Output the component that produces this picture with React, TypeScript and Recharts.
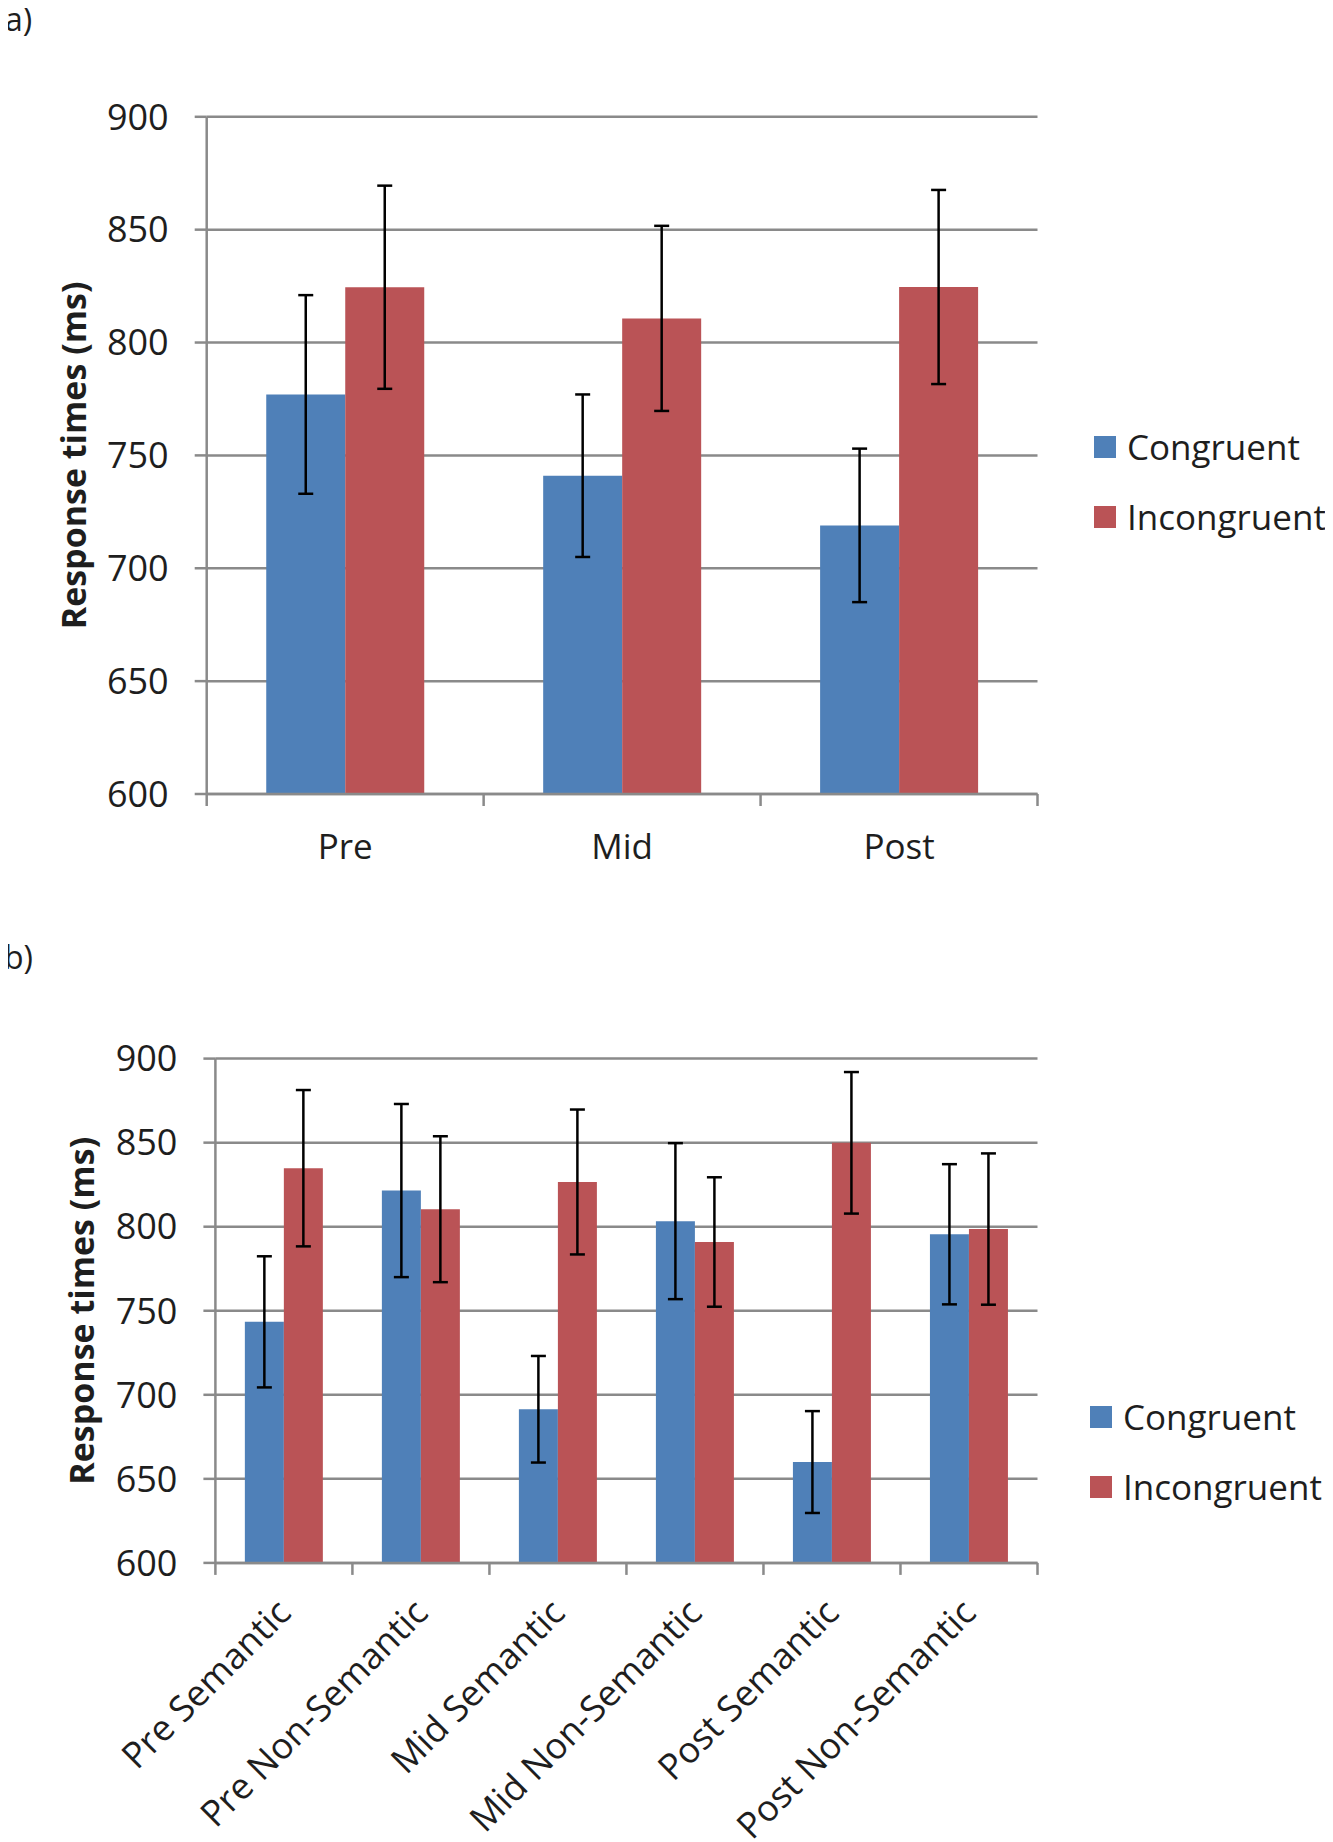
import React from 'react'
import { Bar, BarChart, CartesianGrid, ErrorBar, Legend, XAxis, YAxis } from 'recharts'

// panel a) – by phase
const phases = ['Pre', 'Mid', 'Post']
const congruentA = [777, 741, 719]
const congruentErrA = [44, 36, 34]
const incongruentA = [824.5, 810.7, 824.6]
const incongruentErrA = [45, 41, 43]

// panel b) – by phase and condition
const conditions = [
  'Pre Semantic',
  'Pre Non-Semantic',
  'Mid Semantic',
  'Mid Non-Semantic',
  'Post Semantic',
  'Post Non-Semantic',
]
const congruentB = [743.4, 821.5, 691.4, 803.3, 660, 795.5]
const congruentErrB = [39, 51.5, 31.7, 46.4, 30.3, 41.7]
const incongruentB = [834.8, 810.4, 826.6, 790.9, 849.9, 798.6]
const incongruentErrB = [46.5, 43.4, 43.1, 38.5, 42.1, 45]

const yTicks = [600, 650, 700, 750, 800, 850, 900]

const BLUE = '#4F80B8'
const RED = '#BA5356'
const GRID = '#8A8A8A'
const INK = '#1E1E1E'
const FONT = '"Open Sans", sans-serif'

const tableA = phases.map((name, i) => ({
  name,
  congruent: congruentA[i],
  congruentErr: congruentErrA[i],
  incongruent: incongruentA[i],
  incongruentErr: incongruentErrA[i],
}))

const tableB = conditions.map((name, i) => ({
  name,
  congruent: congruentB[i],
  congruentErr: congruentErrB[i],
  incongruent: incongruentB[i],
  incongruentErr: incongruentErrB[i],
}))

// category ticks sit between the categories, as in the original spreadsheet chart
function makeTick(band: number, count: number, rotated: boolean) {
  return function CategoryTick(props: any) {
    const { x, y, payload, index } = props
    const left = x - band / 2
    const bx = x + 9
    const by = y + 52
    return (
      <g>
        <line x1={left} y1={y} x2={left} y2={y + 12} stroke={GRID} strokeWidth={2.5} />
        {index === count - 1 && (
          <line x1={x + band / 2} y1={y} x2={x + band / 2} y2={y + 12} stroke={GRID} strokeWidth={2.5} />
        )}
        {rotated ? (
          <text
            x={bx}
            y={by}
            textAnchor="end"
            transform={`rotate(-45 ${bx} ${by})`}
            fill={INK}
            fontSize={36}
            fontFamily={FONT}
          >
            {payload.value}
          </text>
        ) : (
          <text x={x} y={y + 65} textAnchor="middle" fill={INK} fontSize={35} fontFamily={FONT}>
            {payload.value}
          </text>
        )}
      </g>
    )
  }
}

function YLabel(props: any) {
  const { viewBox } = props
  const cx = viewBox.x - 1
  const cy = viewBox.y + viewBox.height / 2
  return (
    <text
      x={cx}
      y={cy}
      textAnchor="middle"
      transform={`rotate(-90 ${cx} ${cy})`}
      fill={INK}
      fontSize={34}
      fontWeight={700}
      fontFamily={FONT}
    >
      Response times (ms)
    </text>
  )
}

function renderLegend(props: any) {
  return (
    <div style={{ fontFamily: FONT, fontSize: 35, color: INK }}>
      {props.payload.map((entry: any) => (
        <div key={entry.value} style={{ display: 'flex', alignItems: 'center', height: 70 }}>
          <span style={{ width: 22, height: 22, background: entry.color, marginRight: 11 }} />
          <span style={{ lineHeight: '70px' }}>{entry.value}</span>
        </div>
      ))}
    </div>
  )
}

function Panel({ data, width, height, margin, xHeight, band, rotated, legendPos }: any) {
  return (
    <BarChart
      width={width}
      height={height}
      data={data}
      margin={margin}
      barCategoryGap="21.5%"
      barGap={0}
    >
      <CartesianGrid vertical={false} stroke={GRID} strokeWidth={2.5} />
      <XAxis
        dataKey="name"
        interval={0}
        height={xHeight}
        tickSize={0}
        tickMargin={0}
        tickLine={false}
        axisLine={{ stroke: GRID, strokeWidth: 2.5 }}
        tick={makeTick(band, data.length, rotated)}
      />
      <YAxis
        width={120}
        domain={[600, 900]}
        ticks={yTicks}
        interval={0}
        tickSize={12}
        tickMargin={26}
        axisLine={{ stroke: GRID, strokeWidth: 2.5 }}
        tickLine={{ stroke: GRID, strokeWidth: 2.5 }}
        tick={{ fill: INK, fontSize: 36, fontFamily: FONT }}
        label={(p: any) => <YLabel {...p} />}
      />
      <Legend
        layout="vertical"
        align="center"
        verticalAlign="middle"
        content={renderLegend}
        wrapperStyle={{ left: legendPos.left, top: legendPos.top, width: 236 }}
      />
      <Bar dataKey="congruent" name="Congruent" fill={BLUE} isAnimationActive={false}>
        <ErrorBar dataKey="congruentErr" width={7.5} strokeWidth={2.5} stroke="#000" />
      </Bar>
      <Bar dataKey="incongruent" name="Incongruent" fill={RED} isAnimationActive={false}>
        <ErrorBar dataKey="incongruentErr" width={7.5} strokeWidth={2.5} stroke="#000" />
      </Bar>
    </BarChart>
  )
}

export default function App() {
  const bandA = (1037.5 - 206.7) / phases.length
  const bandB = (1037.5 - 215.4) / conditions.length
  return (
    <div
      style={{
        position: 'relative',
        width: 1333,
        height: 1842,
        margin: '-8px 0 0 -8px',
        background: '#fff',
        fontFamily: FONT,
        color: INK,
      }}
    >
      <div style={{ position: 'absolute', left: 5, top: 3, fontSize: 32, lineHeight: '32px' }}>a)</div>
      <div style={{ position: 'absolute', left: 4, top: 941, fontSize: 32, lineHeight: '32px' }}>b)</div>

      <div style={{ position: 'absolute', left: 0, top: 0 }}>
        <Panel
          data={tableA}
          width={1333}
          height={900}
          margin={{ top: 116.8, right: 295.5, bottom: 26, left: 86.7 }}
          xHeight={80}
          band={bandA}
          rotated={false}
          legendPos={{ left: 1094, top: 412 }}
        />
      </div>

      <div style={{ position: 'absolute', left: 0, top: 900 }}>
        <Panel
          data={tableB}
          width={1333}
          height={942}
          margin={{ top: 158.6, right: 295.5, bottom: 29.1, left: 95.4 }}
          xHeight={250}
          band={bandB}
          rotated={true}
          legendPos={{ left: 1090, top: 481.5 }}
        />
      </div>
    </div>
  )
}
